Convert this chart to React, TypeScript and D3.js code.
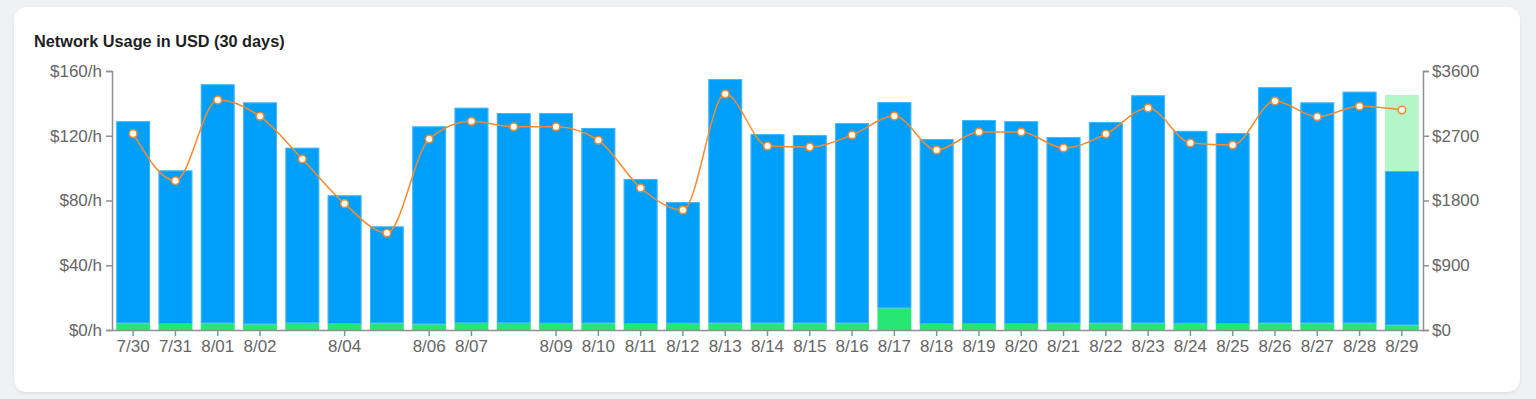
import React, { useEffect, useRef } from 'react';
import * as d3 from 'd3';

// days shown on the x axis
const days = [
  '7/30', '7/31', '8/01', '8/02', '8/03', '8/04', '8/05', '8/06', '8/07', '8/08',
  '8/09', '8/10', '8/11', '8/12', '8/13', '8/14', '8/15', '8/16', '8/17', '8/18',
  '8/19', '8/20', '8/21', '8/22', '8/23', '8/24', '8/25', '8/26', '8/27', '8/28', '8/29',
];
// labels that are drawn (some days are skipped)
const shownDays = days.filter(d => !['8/03', '8/05', '8/08'].includes(d));

// hourly rate, green bottom part ($/h)
const greenRate = [
  4.1, 3.7, 4.1, 3.5, 4.3, 3.7, 4.1, 3.5, 4.3, 4.3,
  3.9, 4.1, 3.7, 3.9, 4.1, 4.1, 4.1, 4.1, 13.4, 3.7,
  3.7, 3.7, 4.1, 4.1, 4.1, 3.9, 3.7, 4.1, 4.1, 4.1, 2.9,
];
// hourly rate, blue part ($/h)
const blueRate = [
  124.9, 94.9, 147.7, 137.1, 108.3, 79.5, 59.9, 122.3, 133.0, 129.7,
  130.1, 120.7, 89.6, 75.1, 150.9, 116.9, 116.3, 123.7, 127.4, 114.3,
  126.0, 125.3, 115.1, 124.4, 140.9, 119.1, 118.0, 145.9, 136.5, 143.1, 95.3,
];
// projected extra for the current day ($/h)
const projectedRate = [
  0, 0, 0, 0, 0, 0, 0, 0, 0, 0,
  0, 0, 0, 0, 0, 0, 0, 0, 0, 0,
  0, 0, 0, 0, 0, 0, 0, 0, 0, 0, 47.0,
];
// daily cost in USD (right axis)
const dailyCost = [
  2729, 2075, 3197, 2970, 2377, 1756, 1348, 2655, 2901, 2826,
  2826, 2637, 1974, 1668, 3280, 2558, 2544, 2710, 2975, 2502,
  2752, 2752, 2530, 2724, 3086, 2600, 2572, 3183, 2965, 3110, 3058,
];

const leftTicks = [0, 40, 80, 120, 160];
const rightTicks = [0, 900, 1800, 2700, 3600];

const W = 1536, H = 399;
const FONT = '"Liberation Sans", Arial, Helvetica, sans-serif';

export default function App() {
  const ref = useRef<SVGSVGElement>(null);

  useEffect(() => {
    document.body.style.margin = '0';
    document.body.style.background = '#f0f1f3';
    const svg = d3.select(ref.current);
    svg.selectAll('*').remove();

    const defs = svg.append('defs');
    const f = defs.append('filter').attr('id', 'shadow').attr('x', '-5%').attr('y', '-10%')
      .attr('width', '110%').attr('height', '125%');
    f.append('feDropShadow').attr('dx', 0).attr('dy', 1.5).attr('stdDeviation', 1.5)
      .attr('flood-color', '#000').attr('flood-opacity', 0.08);

    // card
    svg.append('rect')
      .attr('x', 14).attr('y', 7).attr('width', 1506).attr('height', 385)
      .attr('rx', 13).attr('fill', '#fff').attr('filter', 'url(#shadow)');

    svg.append('text')
      .attr('x', 34).attr('y', 47)
      .attr('font-family', FONT).attr('font-size', 16.3).attr('font-weight', 700)
      .attr('fill', '#1f1f1f')
      .text('Network Usage in USD (30 days)');

    const left = 112, right = 1423, top = 71, bottom = 330;

    const x = d3.scaleBand().domain(days).range([left, right]).paddingInner(0.2).paddingOuter(0.1);
    const yL = d3.scaleLinear().domain([0, 160]).range([bottom, top]);
    const yR = d3.scaleLinear().domain([0, 3600]).range([bottom, top]);

    const rows = days.map((d, i) => ({
      day: d, green: greenRate[i], blue: blueRate[i], projected: projectedRate[i],
    }));
    const stack = d3.stack<any>().keys(['green', 'blue', 'projected'])(rows);
    const colors: Record<string, string> = { green: '#27e673', blue: '#009ffa', projected: '#b4f5c9' };

    const g = svg.append('g');
    stack.forEach(layer => {
      g.append('g').selectAll('rect')
        .data(layer)
        .enter()
        .append('rect')
        .attr('x', (d: any) => x(d.data.day)!)
        .attr('y', (d: any) => yL(d[1]))
        .attr('width', x.bandwidth())
        .attr('height', (d: any) => Math.max(0, yL(d[0]) - yL(d[1])))
        .attr('fill', colors[layer.key]);
    });
    // light outline around the blue bar
    g.append('g').selectAll('rect')
      .data(rows)
      .enter()
      .append('rect')
      .attr('x', d => x(d.day)! + 0.5)
      .attr('y', d => yL(d.green + d.blue) + 0.5)
      .attr('width', x.bandwidth() - 1)
      .attr('height', d => yL(d.green) - yL(d.green + d.blue) - 1)
      .attr('fill', 'none')
      .attr('stroke', '#6cc6fb').attr('stroke-width', 1).attr('stroke-opacity', 0.6);

    // axes
    const styleAxis = (sel: any) => {
      sel.select('.domain').attr('stroke', '#8f8f8f').attr('stroke-width', 1.5);
      sel.selectAll('.tick line').attr('stroke', '#8f8f8f').attr('stroke-width', 1.5);
      sel.selectAll('.tick text').attr('fill', '#666').attr('font-size', 17).attr('font-family', FONT);
    };

    svg.append('g').attr('transform', `translate(${left},0)`)
      .call(d3.axisLeft(yL).tickValues(leftTicks).tickFormat(d => `$${d}/h`).tickSize(6).tickPadding(4))
      .call(styleAxis);

    svg.append('g').attr('transform', `translate(${right},0)`)
      .call(d3.axisRight(yR).tickValues(rightTicks).tickFormat(d => `$${d}`).tickSize(6).tickPadding(3))
      .call(styleAxis);

    svg.append('g').attr('transform', `translate(0,${bottom})`)
      .call(d3.axisBottom(x).tickValues(shownDays).tickSizeInner(6).tickSizeOuter(0).tickPadding(4))
      .call(styleAxis);

    // cost line
    const line = d3.line<number>()
      .x((_, i) => x(days[i])! + x.bandwidth() / 2)
      .y(d => yR(d))
      .curve(d3.curveMonotoneX);

    svg.append('path')
      .datum(dailyCost)
      .attr('d', line)
      .attr('fill', 'none')
      .attr('stroke', '#fb8a2e')
      .attr('stroke-width', 1.5);

    svg.append('g').selectAll('circle')
      .data(dailyCost)
      .enter()
      .append('circle')
      .attr('cx', (_, i) => x(days[i])! + x.bandwidth() / 2)
      .attr('cy', d => yR(d))
      .attr('r', 3.8)
      .attr('fill', '#fff')
      .attr('stroke', '#fb8a2e')
      .attr('stroke-width', 1.5);
  }, []);

  return (
    <svg ref={ref} width={W} height={H} style={{ display: 'block', position: 'absolute', left: 0, top: 0 }} />
  );
}
